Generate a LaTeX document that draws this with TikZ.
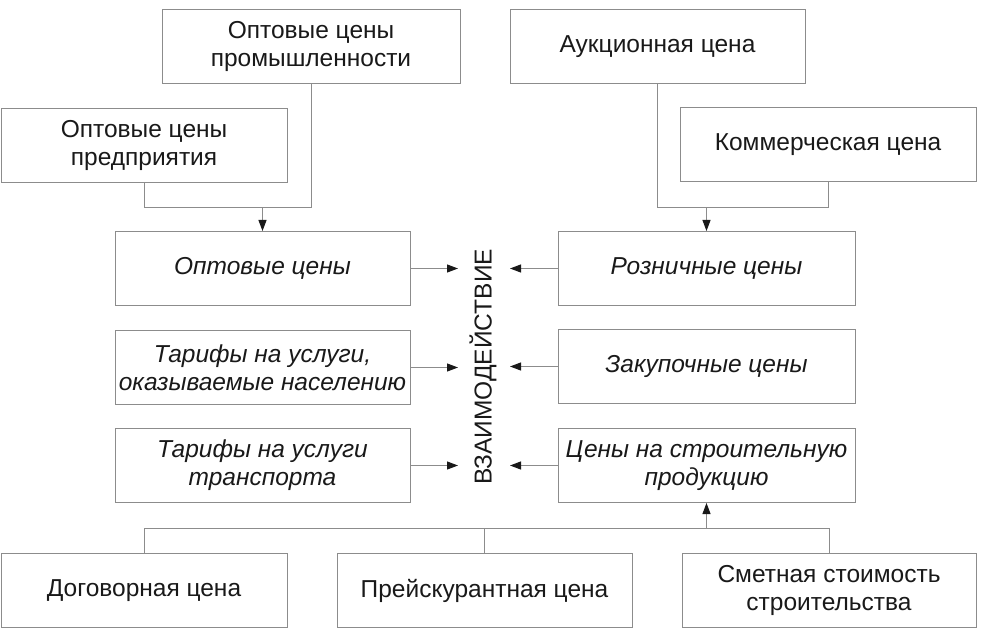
\documentclass[tikz,border=0pt]{standalone}
\usepackage{fontspec}
\setmainfont{Liberation Sans}
\usetikzlibrary{arrows.meta}
\tikzset{
  box/.style={draw=black!45, line width=1pt, minimum width=#1, minimum height=74pt,
    inner sep=2pt, align=center, text=black!90, font=\fontsize{24.5}{28}\selectfont},
  box/.default=296pt,
  ibox/.style={box=#1, font=\fontsize{24.5}{28}\selectfont\itshape},
  ibox/.default=296pt,
  link/.style={draw=black!45, line width=1pt},
  arr/.style={link, -{Triangle[length=11pt,width=8pt,color=black!90]}},
}
\begin{document}
\begin{tikzpicture}[x=1pt, y=-1pt]
  \useasboundingbox (0,0) rectangle (996,636);
  \node[box=298pt] (prom) at (311,46.5) {Оптовые цены\\промышленности};
  \node[box=286pt] (pred) at (144,145.5) {Оптовые цены\\предприятия};
  \node[box=295pt] (auk) at (657.5,46.5) {Аукционная цена};
  \node[box=296pt] (komm) at (828,145) {Коммерческая цена};
  \node[ibox=295pt] (opt) at (262.5,268.5) {Оптовые цены};
  \node[ibox=295pt] (tar1) at (262.5,367.5) {Тарифы на услуги,\\оказываемые населению};
  \node[ibox=295pt] (tar2) at (262.5,465.5) {Тарифы на услуги\\транспорта};
  \node[ibox=297pt] (rozn) at (706.5,268.5) {Розничные цены};
  \node[ibox=297pt] (zak) at (706.5,366.5) {Закупочные цены};
  \node[ibox=297pt] (stroi) at (706.5,465.5) {Цены на строительную\\продукцию};
  \node[box=286pt] (dog) at (144,590.5) {Договорная цена};
  \node[box=295pt] (preisk) at (484.5,590.5) {Прейскурантная цена};
  \node[box=294pt] (smet) at (829,590.5) {Сметная стоимость\\строительства};
  \node[rotate=90, text=black!90, font=\fontsize{24.5}{28}\selectfont] (vz) at (483,367) {ВЗАИМОДЕЙСТВИЕ};

  \coordinate (busL) at (0,208);
  \coordinate (busR) at (0,208);
  \coordinate (busB) at (0,528);
  \coordinate (inL) at (458,0);
  \coordinate (inR) at (510,0);

  \draw[link] (prom.south) -- (prom.south |- busL) -| (pred.south);
  \draw[arr] (opt.north |- busL) -- (opt.north);
  \draw[link] (auk.south) -- (auk.south |- busR) -| (komm.south);
  \draw[arr] (rozn.north |- busR) -- (rozn.north);
  \draw[link] (dog.north) -- (dog.north |- busB) -| (smet.north);
  \draw[link] (preisk.north) -- (preisk.north |- busB);
  \draw[arr] (stroi.south |- busB) -- (stroi.south);

  \foreach \b in {opt,tar1,tar2} \draw[arr] (\b.east) -- (\b.east -| inL);
  \foreach \b in {rozn,zak,stroi} \draw[arr] (\b.west) -- (\b.west -| inR);
\end{tikzpicture}
\end{document}
